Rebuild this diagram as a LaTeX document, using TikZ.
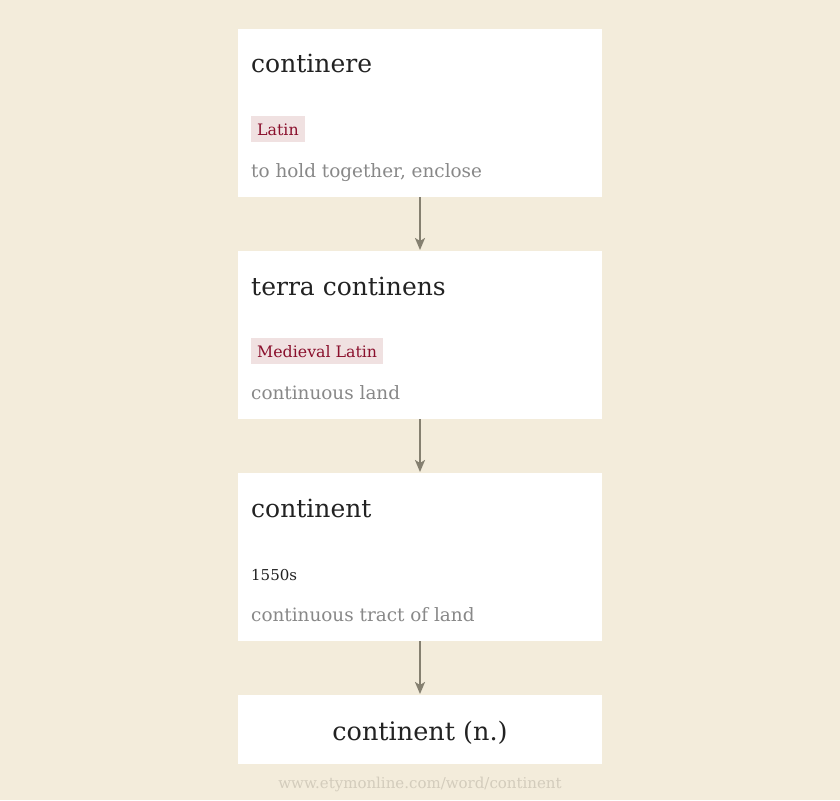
\documentclass[tikz,border=0pt]{standalone}
\usepackage{fontspec}
\setmainfont{DejaVu Serif}
\usetikzlibrary{arrows.meta}
\definecolor{bg}{HTML}{F3ECDB}
\definecolor{titlec}{HTML}{222222}
\definecolor{tagbg}{HTML}{F0E1E1}
\definecolor{tagfg}{HTML}{8A0F2C}
\definecolor{glossc}{HTML}{888888}
\definecolor{arrowc}{HTML}{858070}
\definecolor{footc}{HTML}{D3CCBC}
\tikzset{
  card/.style={fill=white, draw=none},
  titletext/.style={anchor=base west, inner sep=0, text=titlec, font=\fontsize{25}{28}\selectfont},
  tagtext/.style={anchor=base west, inner sep=0, text=tagfg, font=\fontsize{15.8}{18}\selectfont},
  glosstext/.style={anchor=base west, inner sep=0, text=glossc, font=\fontsize{18.4}{21}\selectfont},
  datetext/.style={anchor=base west, inner sep=0, text=titlec, font=\fontsize{15}{18}\selectfont},
  link/.style={draw=arrowc, line width=2pt, -{Stealth[length=12pt,width=10pt,inset=3pt]}},
}
\begin{document}
\begin{tikzpicture}[x=1pt,y=-1pt]
\fill[bg] (0,0) rectangle (840,800);
\useasboundingbox (0,0) rectangle (840,800);
% cards
\path[card] (238,29) rectangle (602,197);
\path[card] (238,251) rectangle (602,419);
\path[card] (238,473) rectangle (602,641);
\path[card] (238,695) rectangle (602,764);
\coordinate (b1) at (420,197);
\coordinate (t2) at (420,250);
\coordinate (b2) at (420,419);
\coordinate (t3) at (420,472);
\coordinate (b3) at (420,641);
\coordinate (t4) at (420,694);
% card 1
\node[titletext] (w1) at (251,73) {continere};
\fill[tagbg] (251,116) rectangle (305,142);
\node[tagtext] (l1) at (257,135) {Latin};
\node[glosstext] (g1) at (251,177) {to hold together, enclose};
% card 2
\node[titletext] (w2) at (251,295) {terra continens};
\fill[tagbg] (251,338) rectangle (383,364);
\node[tagtext] (l2) at (257,357) {Medieval Latin};
\node[glosstext] (g2) at (251,399) {continuous land};
% card 3
\node[titletext] (w3) at (251,517) {continent};
\node[datetext] (d3) at (251,580) {1550s};
\node[glosstext] (g3) at (251,621) {continuous tract of land};
% card 4
\node[anchor=base, inner sep=0, text=titlec, font=\fontsize{25.5}{28}\selectfont] (w4) at (420,740) {continent (n.)};
% footer
\node[anchor=base, inner sep=0, text=footc, font=\fontsize{15}{18}\selectfont] (f) at (420,788) {www.etymonline.com/word/continent};
% arrows
\draw[link] (b1) -- (t2);
\draw[link] (b2) -- (t3);
\draw[link] (b3) -- (t4);
\end{tikzpicture}
\end{document}
